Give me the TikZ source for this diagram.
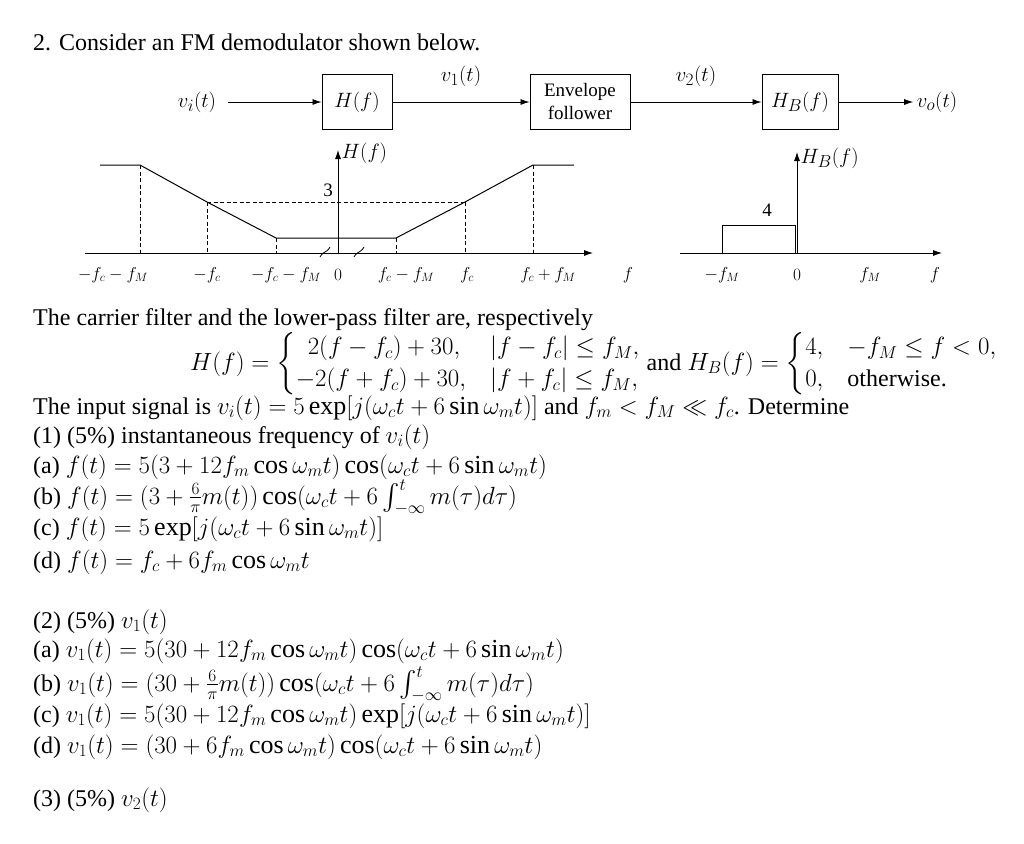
\documentclass[tikz,border=0pt]{standalone}
\usepackage{amsmath,amssymb}
\usepackage{fontspec}
\setmainfont{Liberation Serif}
\DeclareMathSizes{19}{22.5}{16}{13}
\DeclareMathSizes{24}{26}{18}{14}
\DeclareMathSizes{16}{17.5}{12}{10}
\usetikzlibrary{arrows.meta}
\begin{document}
\begin{tikzpicture}[x=1pt,y=-1pt,font=\fontsize{19}{23}\selectfont,
  blk/.style={draw,line width=1pt,minimum height=55pt,inner sep=2pt,align=center},
  txt/.style={anchor=west,inner sep=0pt,font=\fontsize{24}{28}\selectfont},
  lbl/.style={font=\fontsize{16}{19}\selectfont},
  arr/.style={-{Latex[length=9pt,width=6pt]},line width=0.8pt},
  dsh/.style={dash pattern=on 4pt off 2.5pt,line width=0.8pt}]
\useasboundingbox (0,0) rectangle (1024,843);
\node[txt] (t0) at (33,42) {2. Consider an FM demodulator shown below.};
% block diagram
\node (vi) at (197,102) {$v_i(t)$};
\node[blk,minimum width=70pt] (h) at (357,102) {$H(f)$};
\node[blk,minimum width=100pt] (env) at (580,102) {Envelope\\follower};
\node[blk,minimum width=76pt] (hb) at (800,102) {$H_B(f)$};
\node (vo) at (937,102) {$v_o(t)$};
\draw[arr] (vi.east)++(8,0) -- (h.west);
\draw[arr] (h) -- (env) node[midway,above=12pt] {$v_1(t)$};
\draw[arr] (env) -- (hb) node[midway,above=12pt] {$v_2(t)$};
\draw[arr] (hb) -- (vo);
% H(f) plot
\coordinate (ax0) at (85,253); \coordinate (ax1) at (593,253);
\draw[arr] (ax0) -- (ax1);
\coordinate (yb) at (338,253); \coordinate (yt) at (338,150);
\draw[arr] (yb) -- (yt) node[right,pos=1,yshift=-3pt] {$H(f)$};
\draw[line width=1pt] (100,165) -- (140,165) -- (207,202) -- (276,238) -- (396,238) -- (465,202) -- (533,165) -- (574,165);
\draw[dsh] (140,165)--(140,253) (207,202)--(207,253) (276,238)--(276,253) (396,238)--(396,253) (465,202)--(465,253) (533,165)--(533,253) (207,202)--(465,202);
\node (n3) at (328,190) {3};
\draw[line width=0.8pt] (320,257) .. controls (324,250) and (326,254) .. (330,247);
\draw[line width=0.8pt] (354,257) .. controls (358,250) and (360,254) .. (364,247);
\node[lbl] at (113,275) {$-f_c-f_M$};
\node[lbl] at (207,275) {$-f_c$};
\node[lbl] at (286,275) {$-f_c-f_M$};
\node[lbl] at (338,275) {$0$};
\node[lbl] at (406,275) {$f_c-f_M$};
\node[lbl] at (467,275) {$f_c$};
\node[lbl] at (548,275) {$f_c+f_M$};
\node[lbl] at (628,275) {$f$};
% HB plot
\draw[arr] (680,253) -- (942,253);
\draw[arr] (797,253) -- (797,152) node[right,pos=1,yshift=-6pt] {$H_B(f)$};
\draw[line width=1pt] (722,253) rectangle (795,225);
\node (n4) at (767,210) {4};
\node[lbl] at (722,275) {$-f_M$};
\node[lbl] at (797,275) {$0$};
\node[lbl] at (870,275) {$f_M$};
\node[lbl] at (935,275) {$f$};
% text
\node[txt] at (33,320) {The carrier filter and the lower-pass filter are, respectively};
\node[txt] at (190,364) {$H(f)=\begin{cases}\ \ 2(f-f_c)+30, & |f-f_c|\le f_M,\\[-2pt] -2(f+f_c)+30, & |f+f_c|\le f_M,\end{cases}$ and $H_B(f)=\begin{cases}4, & -f_M\le f<0,\\[-2pt] 0, & \text{otherwise.}\end{cases}$};
\node[txt] at (33,408) {The input signal is $v_i(t)=5\exp[j(\omega_c t+6\sin\omega_m t)]$ and $f_m<f_M\ll f_c$. Determine};
\node[txt] at (33,437) {(1) (5\%) instantaneous frequency of $v_i(t)$};
\node[txt] at (33,467) {(a) $f(t)=5(3+12f_m\cos\omega_m t)\cos(\omega_c t+6\sin\omega_m t)$};
\node[txt] at (33,497) {(b) $f(t)=(3+\frac{6}{\pi}m(t))\cos(\omega_c t+6\int_{-\infty}^{t}m(\tau)d\tau)$};
\node[txt] at (33,529) {(c) $f(t)=5\exp[j(\omega_c t+6\sin\omega_m t)]$};
\node[txt] at (33,562) {(d) $f(t)=f_c+6f_m\cos\omega_m t$};
\node[txt] at (33,622) {(2) (5\%) $v_1(t)$};
\node[txt] at (33,651) {(a) $v_1(t)=5(30+12f_m\cos\omega_m t)\cos(\omega_c t+6\sin\omega_m t)$};
\node[txt] at (33,684) {(b) $v_1(t)=(30+\frac{6}{\pi}m(t))\cos(\omega_c t+6\int_{-\infty}^{t}m(\tau)d\tau)$};
\node[txt] at (33,716) {(c) $v_1(t)=5(30+12f_m\cos\omega_m t)\exp[j(\omega_c t+6\sin\omega_m t)]$};
\node[txt] at (33,747) {(d) $v_1(t)=(30+6f_m\cos\omega_m t)\cos(\omega_c t+6\sin\omega_m t)$};
\node[txt] at (33,800) {(3) (5\%) $v_2(t)$};
\end{tikzpicture}
\end{document}
